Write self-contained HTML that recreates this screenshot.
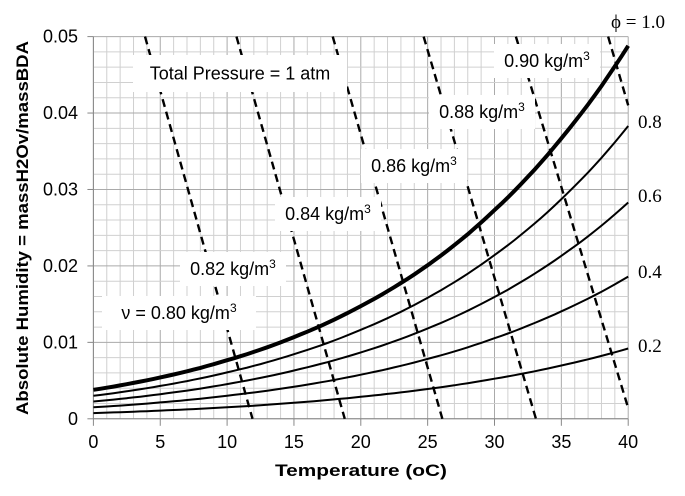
<!DOCTYPE html>
<html><head><meta charset="utf-8"><style>
body{margin:0;background:#fff}
svg{display:block}
</style></head><body>
<svg id="chart" width="685" height="496" xmlns="http://www.w3.org/2000/svg" font-family="Liberation Sans, sans-serif">
<g id="grid"></g>
<g id="axes"></g>
<g id="vlines"></g>
<g id="curves"></g>
<g id="labels"></g>
<text transform="translate(28,228) rotate(-90)" text-anchor="middle" font-size="17" font-weight="bold" textLength="374" lengthAdjust="spacingAndGlyphs">Absolute Humidity = massH2Ov/massBDA</text>
<text x="361" y="476" text-anchor="middle" font-size="17" font-weight="bold" textLength="172" lengthAdjust="spacingAndGlyphs">Temperature (oC)</text>
</svg>
<script>
const temps=[0,5,10,15,20,25,30,35,40];
const phiLabels=["1.0","0.8","0.6","0.4","0.2"];
const w10=[0.00379,0.00541,0.00766,0.01069,0.01475,0.0201,0.0273,0.0367,0.0488];
const w08=[0.00301,0.0043,0.00607,0.00845,0.01164,0.01584,0.02142,0.02874,0.0383];
const w06=[0.00226,0.00322,0.00454,0.00632,0.00869,0.01182,0.01594,0.02132,0.0283];
const w04=[0.0015,0.00214,0.00302,0.0042,0.00577,0.00783,0.01054,0.01406,0.0186];
const w02=[0.00075,0.00107,0.00151,0.00209,0.00288,0.0039,0.00524,0.00697,0.0092];
const volumes=["0.80","0.82","0.84","0.86","0.88","0.90"];
const vStartT=[3.86,10.7,17.9,24.7,31.6,38.5];
const vStartW=[0.05,0.05,0.05,0.05,0.05,0.05];
const vEndT=[11.9,18.8,26.1,33.1,40,40];
const vEndW=[0,0,0,0,0.0014,0.041];
const xTicks=[0,5,10,15,20,25,30,35,40];
const yTicks=[0,0.01,0.02,0.03,0.04,0.05];
const yTickLabels=["0","0.01","0.02","0.03","0.04","0.05"];

const X=t=>93.4+t*(628.2-93.4)/40;
const Y=w=>418.8-w*(418.8-36.6)/0.05;
const NS="http://www.w3.org/2000/svg";
function mk(tag,attrs,parent,txt){const e=document.createElementNS(NS,tag);for(const k in attrs)e.setAttribute(k,attrs[k]);if(txt!==undefined)e.textContent=txt;parent.appendChild(e);return e;}
const grid=document.getElementById('grid'),axes=document.getElementById('axes');
for(let t=0;t<=40;t++){const l=mk('line',{x1:X(t),x2:X(t),y1:Y(0.05),y2:Y(0),stroke:t%5===0?'#aaa':'#d0d0d0','stroke-width':1},grid);

}
for(let i=0;i<=25;i++){const w=i*0.002;const l=mk('line',{x1:X(0),x2:X(40),y1:Y(w),y2:Y(w),stroke:i%5===0?'#aaa':'#d0d0d0','stroke-width':1},grid);

}
mk('line',{x1:X(0),x2:X(40),y1:Y(0),y2:Y(0),stroke:'#888'},axes);
mk('line',{x1:X(0),x2:X(0),y1:Y(0),y2:Y(0.05),stroke:'#888'},axes);
xTicks.forEach(t=>{mk('line',{x1:X(t),x2:X(t),y1:Y(0),y2:Y(0)+7,stroke:'#888'},axes);
const tx=mk('text',{x:X(t),y:448,'text-anchor':'middle','font-size':18},axes,String(t));

});
yTicks.forEach((w,i)=>{mk('line',{x1:X(0)-6,x2:X(0),y1:Y(w),y2:Y(w),stroke:'#888'},axes);
const tx=mk('text',{x:78,y:Y(w)+6,'text-anchor':'end','font-size':18},axes,yTickLabels[i]);

});
const vg=document.getElementById('vlines');
volumes.forEach((v,i)=>{const l=mk('line',{x1:X(vStartT[i]),y1:Y(vStartW[i]),x2:X(vEndT[i]),y2:Y(vEndW[i]),stroke:'#000','stroke-width':2.4,'stroke-dasharray':'8,5'},vg);

});
const cg=document.getElementById('curves');
[w10,w08,w06,w04,w02].forEach((arr,j)=>{
 let d='';const n=80;
 for(let k=0;k<=n;k++){const t=40*k/n;const s=Math.min(7,Math.floor(t/5));const f=(t-temps[s])/5;
  const w=Math.exp(Math.log(arr[s])*(1-f)+Math.log(arr[s+1])*f);
  d+=(k?'L':'M')+X(t).toFixed(1)+','+Y(w).toFixed(1);}
 const p=mk('path',{d:d,fill:'none',stroke:'#000','stroke-width':j===0?4:2},cg);
 
 
});
const lg=document.getElementById('labels');
function box(x,y,w,h,txt,name,sup,tl){const g=mk('g',{},lg);


mk('rect',{x:x,y:y,width:w,height:h,fill:'#fff'},g);
const t=mk('text',{x:x+w/2,y:y+h/2+6,'text-anchor':'middle','font-size':18},g,txt);
if(sup){mk('tspan',{'font-size':12,dy:-7},t,'3');}}
box(133,55,214,37,'Total Pressure = 1 atm','total-pressure-label',false);
box(102,296,154,34,'ν = 0.80 kg/m','volume-label-0.80',true);
box(180,252,106,34,'0.82 kg/m','volume-label-0.82',true);
box(275,197,106,34,'0.84 kg/m','volume-label-0.84',true);
box(361,149,106,34,'0.86 kg/m','volume-label-0.86',true);
box(429,95,106,34,'0.88 kg/m','volume-label-0.88',true);
box(494,44,106,34,'0.90 kg/m','volume-label-0.90',true);
const rl=[["ϕ = 1.0",611,28],["0.8",638,128],["0.6",638,202],["0.4",638,278],["0.2",638,352]];
rl.forEach(r=>{const t=mk('text',{x:r[1],y:r[2],'font-size':19,'font-family':'Liberation Serif, serif'},lg,r[0]);

});
</script>
</body></html>
